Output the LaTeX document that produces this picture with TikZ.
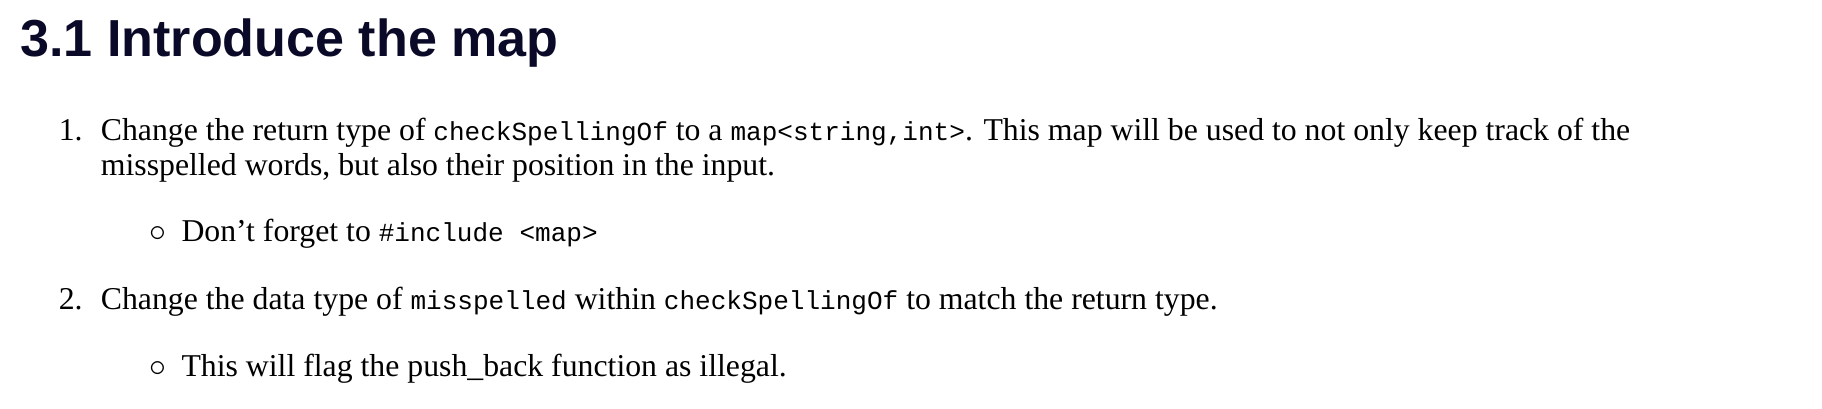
\documentclass[tikz,border=0pt]{standalone}
\usepackage{fontspec}
\setmainfont{Liberation Serif}
\setsansfont{Liberation Sans}
\setmonofont{Liberation Mono}
\definecolor{head}{HTML}{0A0A28}
\newcommand{\cd}[1]{{\fontsize{11.15}{15}\selectfont\texttt{#1}}}
\begin{document}
\begin{tikzpicture}[x=0.5pt,y=-0.5pt,
  txt/.style={anchor=base west,inner sep=0pt,font=\fontsize{13.6}{15}\selectfont},
  hd/.style={anchor=base west,inner sep=0pt,font=\fontsize{22.3}{26}\sffamily\bfseries,text=head}]
\useasboundingbox (0,0) rectangle (1560,350);
\node[hd] (h) at (17,48) {3.1 Introduce the map};
\node[txt] (n1) at (50,120) {1.};
\node[txt] (t1) at (86,120) {Change the return type of \cd{checkSpellingOf} to a \cd{map<string,int>}. This map will be used to not only keep track of the};
\node[txt] (t1b) at (86,150) {misspelled words, but also their position in the input.};
\node[txt] (b1) at (128,207) {$\circ$};
\node[txt] (s1) at (155,207) {Don’t forget to \cd{\#include <map>}};
\node[txt] (n2) at (50,265) {2.};
\node[txt] (t2) at (86,265) {Change the data type of \cd{misspelled} within \cd{checkSpellingOf} to match the return type.};
\node[txt] (b2) at (128,322) {$\circ$};
\node[txt] (s2) at (155,322) {This will flag the push\_back function as illegal.};
\end{tikzpicture}
\end{document}
